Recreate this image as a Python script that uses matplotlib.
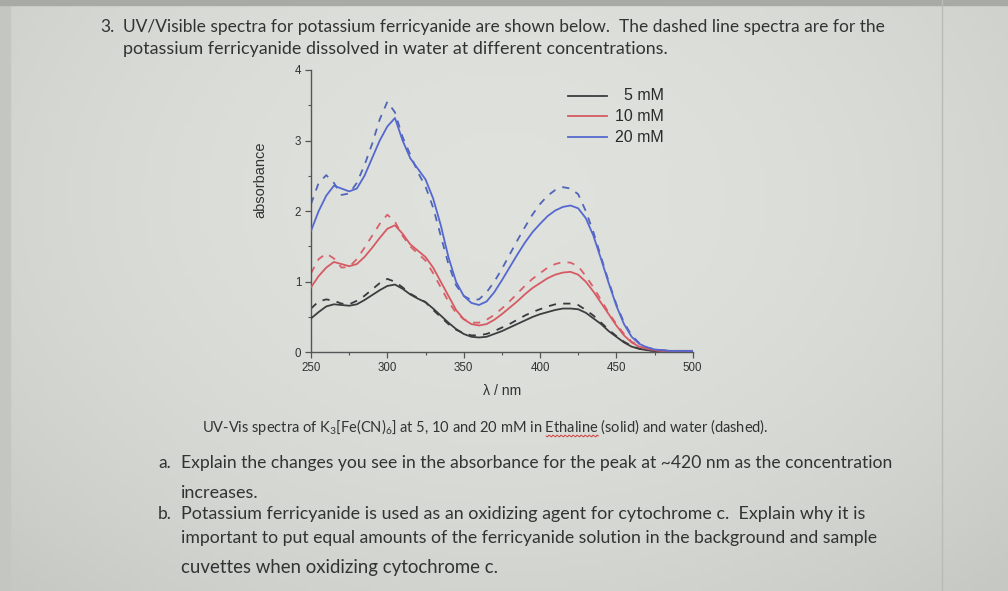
import numpy as np
import matplotlib
matplotlib.use("Agg")
import matplotlib.pyplot as plt
from matplotlib.lines import Line2D

# ---------------- data ----------------
wavelength = list(range(250, 505, 5))

eth_5mM = [0.48, 0.57, 0.65, 0.68, 0.67, 0.66, 0.68, 0.74, 0.81, 0.88,
           0.94, 0.96, 0.90, 0.82, 0.76, 0.71, 0.62, 0.52, 0.42, 0.33,
           0.26, 0.22, 0.21, 0.22, 0.26, 0.30, 0.35, 0.40, 0.45, 0.50,
           0.54, 0.57, 0.60, 0.62, 0.62, 0.61, 0.56, 0.48, 0.40, 0.30,
           0.22, 0.14, 0.08, 0.05, 0.03, 0.02, 0.02, 0.02, 0.02, 0.02, 0.02]
wat_5mM = [0.62, 0.72, 0.75, 0.73, 0.69, 0.68, 0.73, 0.80, 0.89, 0.98,
           1.04, 1.00, 0.92, 0.83, 0.77, 0.71, 0.60, 0.50, 0.40, 0.32,
           0.27, 0.24, 0.24, 0.26, 0.30, 0.35, 0.40, 0.46, 0.52, 0.57,
           0.61, 0.65, 0.68, 0.69, 0.69, 0.67, 0.60, 0.52, 0.42, 0.32,
           0.23, 0.15, 0.09, 0.05, 0.03, 0.02, 0.02, 0.02, 0.02, 0.02, 0.02]
eth_10mM = [0.92, 1.08, 1.20, 1.28, 1.25, 1.22, 1.25, 1.35, 1.48, 1.62,
            1.75, 1.80, 1.68, 1.53, 1.44, 1.35, 1.20, 1.00, 0.80, 0.60,
            0.47, 0.40, 0.38, 0.40, 0.46, 0.54, 0.63, 0.72, 0.82, 0.91,
            0.98, 1.05, 1.10, 1.13, 1.14, 1.10, 1.00, 0.86, 0.70, 0.54,
            0.38, 0.24, 0.14, 0.08, 0.05, 0.03, 0.02, 0.02, 0.02, 0.02, 0.02]
wat_10mM = [1.12, 1.32, 1.40, 1.33, 1.20, 1.21, 1.32, 1.48, 1.65, 1.82,
            1.95, 1.85, 1.65, 1.50, 1.40, 1.30, 1.12, 0.92, 0.72, 0.56,
            0.47, 0.42, 0.42, 0.46, 0.53, 0.62, 0.72, 0.83, 0.94, 1.04,
            1.12, 1.20, 1.25, 1.28, 1.27, 1.22, 1.08, 0.92, 0.74, 0.56,
            0.40, 0.26, 0.15, 0.09, 0.05, 0.03, 0.02, 0.02, 0.02, 0.02, 0.02]
eth_20mM = [1.72, 2.00, 2.22, 2.36, 2.32, 2.28, 2.32, 2.50, 2.75, 3.00,
            3.20, 3.32, 3.00, 2.75, 2.60, 2.45, 2.18, 1.80, 1.35, 1.00,
            0.80, 0.70, 0.67, 0.72, 0.85, 1.02, 1.20, 1.38, 1.55, 1.70,
            1.82, 1.93, 2.01, 2.06, 2.08, 2.04, 1.90, 1.65, 1.32, 0.98,
            0.66, 0.40, 0.22, 0.12, 0.07, 0.04, 0.03, 0.02, 0.02, 0.02, 0.02]
wat_20mM = [2.10, 2.40, 2.51, 2.40, 2.23, 2.25, 2.40, 2.65, 2.95, 3.30,
            3.55, 3.40, 3.05, 2.80, 2.55, 2.35, 2.05, 1.65, 1.25, 0.95,
            0.80, 0.74, 0.75, 0.85, 1.00, 1.18, 1.38, 1.58, 1.77, 1.95,
            2.10, 2.22, 2.30, 2.34, 2.32, 2.24, 2.00, 1.70, 1.35, 1.00,
            0.68, 0.42, 0.24, 0.13, 0.07, 0.04, 0.03, 0.02, 0.02, 0.02, 0.02]

legend_labels = ["5 mM", "10 mM", "20 mM"]
x_ticks = [250, 300, 350, 400, 450, 500]
y_ticks = [0, 1, 2, 3, 4]

# ---------------- style ----------------
W, H = 1008, 591
fig = plt.figure(figsize=(W / 100, H / 100), dpi=100)
fig.patch.set_facecolor("#d9dbd7")

# soft photographic background gradient
bg = fig.add_axes([0, 0, 1, 1], zorder=-10)
gx = np.linspace(-1, 1, 200)
gy = np.linspace(-1, 1, 120)
GX, GY = np.meshgrid(gx, gy)
shade = 0.885 - 0.06 * (GX * 0.9) ** 2 - 0.03 * (GY) ** 2 - 0.02 * GY
bg.imshow(np.dstack([shade * 0.985, shade * 0.995, shade * 0.975]),
          extent=[0, 1, 0, 1], aspect="auto", origin="upper")
bg.axvline(942 / W, color="#b9bbb7", lw=1.0)
bg.axvspan(0, 10 / W, color="#c4c6c1")
bg.axhspan(1 - 5 / H, 1, color="#a8aaa6")
bg.set_xlim(0, 1); bg.set_ylim(0, 1)
bg.axis("off")

colors = {"5": "#3d3d3f", "10": "#d65a63", "20": "#5568cf"}
dash_colors = {"5": "#3a3a3e", "10": "#d9606a", "20": "#5065b8"}

ax = fig.add_axes([311 / W, 1 - 352.3 / H, 381.7 / W, 282.3 / H])
ax.patch.set_alpha(0)

series = [("5", eth_5mM, wat_5mM), ("10", eth_10mM, wat_10mM), ("20", eth_20mM, wat_20mM)]
for key, solid, dashed in series:
    ax.plot(wavelength, dashed, color=dash_colors[key], lw=1.3,
            linestyle=(0, (4, 4)), zorder=2)
    ax.plot(wavelength, solid, color=colors[key], lw=1.3, zorder=3)

ax.set_xlim(250, 500)
ax.set_ylim(0, 4)
for s in ["top", "right"]:
    ax.spines[s].set_visible(False)
for s in ["left", "bottom"]:
    ax.spines[s].set_color("#555555")
    ax.spines[s].set_linewidth(1.0)

tickfont = "Liberation Sans"
ax.set_xticks(x_ticks)
ax.set_xticks([275, 325, 375, 425, 475], minor=True)
ax.set_yticks(y_ticks)
ax.set_yticks([0.5, 1.5, 2.5, 3.5], minor=True)
ax.tick_params(which="major", direction="out", length=4.5, width=0.9,
               color="#555555", labelsize=8.3, labelcolor="#333333", pad=2.5)
ax.tick_params(which="minor", direction="out", length=2.5, width=0.8, color="#555555")
for lab in ax.get_xticklabels() + ax.get_yticklabels():
    lab.set_fontfamily(tickfont)

ax.set_ylabel("absorbance", fontsize=10.5, family=tickfont, color="#333333")
ax.yaxis.set_label_coords(-0.115, 0.61)
ax.set_xlabel("\u03bb / nm", fontsize=10.2, family=tickfont, color="#333333")
ax.xaxis.set_label_coords(0.50, -0.112)

# legend (right-aligned labels)
leg_y = [0.908, 0.837, 0.762]
for key, lab, yy in zip(["5", "10", "20"], legend_labels, leg_y):
    ax.add_line(Line2D([0.673, 0.775], [yy, yy], transform=ax.transAxes,
                       color=colors[key], lw=1.3))
    ax.text(0.925, yy, lab, transform=ax.transAxes, ha="right", va="center",
            fontsize=11.5, family=tickfont, color="#2a2a2a")

# ---------------- page text ----------------
txtfont = "Lato"
tcolor = "#333333"
renderer = fig.canvas.get_renderer()

plt.rcParams["mathtext.fontset"] = "custom"
plt.rcParams["mathtext.rm"] = "Lato"
plt.rcParams["mathtext.it"] = "Lato:italic"


def fit_text(x, y, s, target_w, base=12, **kw):
    t = fig.text(x / W, 1 - y / H, s, fontsize=base, va="center", ha="left",
                 family=txtfont, color=tcolor, **kw)
    w = t.get_window_extent(renderer).width
    if target_w:
        t.set_fontsize(base * target_w / w)
    return t


def text_width(s, size):
    t = fig.text(0, 0, s, fontsize=size, family=txtfont)
    w = t.get_window_extent(renderer).width
    t.remove()
    return w


fit_text(100, 27, "3.", None, base=12.5)
fit_text(123, 27, "UV/Visible spectra for potassium ferricyanide are shown below.  "
         "The dashed line spectra are for the", 759)
fit_text(123, 49, "potassium ferricyanide dissolved in water at different concentrations.", 540)

prefix = "UV-Vis spectra of K$_3$[Fe(CN)$_6$] at 5, 10 and 20 mM in "
cap = fit_text(202, 427, prefix + "Ethaline (solid) and water (dashed).", 563)
cs = cap.get_fontsize()
w_word = text_width("Ethaline", cs)
w_to_end = text_width(prefix + "Ethaline", cs)
x0 = 202 + w_to_end - w_word
x1 = 202 + w_to_end

# red spell-check squiggle under "Ethaline"
n = 40
sx = np.linspace(x0, x1, n)
sy = 436 + 1.0 * np.sin(np.arange(n) * np.pi / 1.5)
fig.add_artist(Line2D(sx / W, 1 - sy / H, color="#d04040", lw=0.7))

fit_text(158, 463, "a.", None, base=12.5)
fit_text(181, 463, "Explain the changes you see in the absorbance for the peak at ~420 nm "
         "as the concentration", 706)
fit_text(181, 493, "increases.", 77)
fit_text(158, 514, "b.", None, base=12.5)
fit_text(181, 514, "Potassium ferricyanide is used as an oxidizing agent for cytochrome c.  "
         "Explain why it is", 680)
fit_text(181, 538, "important to put equal amounts of the ferricyanide solution in the "
         "background and sample", 694)
fit_text(181, 568, "cuvettes when oxidizing cytochrome c.", 318)

fig.savefig("out.png", dpi=100, facecolor=fig.get_facecolor())
